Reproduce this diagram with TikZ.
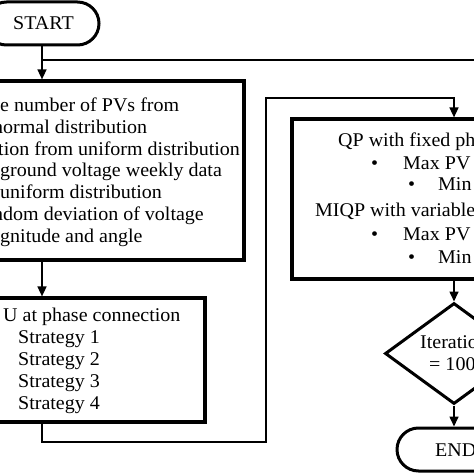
\documentclass[tikz,border=0pt]{standalone}
\usepackage{fontspec}
\setmainfont{Liberation Serif}[FakeStretch=1.03]
\usetikzlibrary{arrows.meta,shapes.misc,shapes.geometric}
\tikzset{
  txt/.style={inner sep=0pt, anchor=base west, font=\fontsize{19.5}{21}\selectfont},
  box/.style={draw, line width=3.2bp, inner sep=0pt},
  term/.style={draw, line width=3bp, rounded rectangle, minimum width=114bp, minimum height=43bp, inner sep=0pt},
  dia/.style={draw, line width=3bp, diamond, minimum width=138bp, minimum height=101bp, inner sep=0pt},
  conn/.style={line width=1.6bp},
  arr/.style={conn, -{Triangle[length=10bp,width=9bp]}}
}
\begin{document}
\begin{tikzpicture}[x=1bp,y=-1bp]
\useasboundingbox (0,0) rectangle (474,474);
\clip (0,0) rectangle (474,474);
% shapes
\node[term] (start) at (42,23.5) {};
\node[box, minimum width=264bp, minimum height=179bp] (box1) at (112,170.5) {};
\node[box, minimum width=225bp, minimum height=124bp] (box2) at (92.5,360) {};
\node[box, minimum width=228bp, minimum height=160bp] (box3) at (406,199) {};
\node[dia] (dec) at (454,353.5) {};
\node[term] (end) at (454,449.5) {};
% texts
\node[txt] (tstart) at (13,30) {START};
\node[txt] (a1) at (0,112) {e number of PVs from};
\node[txt] (a2) at (-7,133.7) {normal distribution};
\node[txt] (a3) at (-2,155.4) {tion from uniform distribution};
\node[txt] (a4) at (0,177) {ground voltage weekly data};
\node[txt] (a5) at (0,198.8) {uniform distribution};
\node[txt] (a6) at (-7,220.5) {ndom deviation of voltage};
\node[txt] (a7) at (0,242) {gnitude and angle};
\node[txt] (b1) at (3,321) {U at phase connection};
\node[txt] (b2) at (18,343) {Strategy 1};
\node[txt] (b3) at (18,365) {Strategy 2};
\node[txt] (b4) at (18,387) {Strategy 3};
\node[txt] (b5) at (18,409) {Strategy 4};
\node[txt] (c1) at (338,147) {QP with fixed ph};
\node[txt] (c2d) at (371,170) {•};
\node[txt] (c2) at (403,170) {Max PV \textbf{i}};
\node[txt] (c3d) at (408,191) {•};
\node[txt] (c3) at (438,191) {Min};
\node[txt] (c4) at (315,217) {MIQP with variable};
\node[txt] (c5d) at (371,240) {•};
\node[txt] (c5) at (403,240) {Max PV \textbf{i}};
\node[txt] (c6d) at (408,263) {•};
\node[txt] (c6) at (438,263) {Min};
\node[txt] (d1) at (420,348) {Iteratio};
\node[txt] (d2) at (429,370) {= 1000};
\node[txt] (tend) at (435,456) {END};
% connectors
\coordinate (j1) at (42,60);
\coordinate (far) at (480,60);
\draw[arr] (start.south) -- (start.south |- box1.north);
\draw[conn] (j1) -- (far);
\draw[arr] (start.south |- box1.south) -- (start.south |- box2.north);
\coordinate (l1) at (42,442);
\coordinate (l2) at (266,442);
\coordinate (l3) at (266,98);
\coordinate (l4) at (454,98);
\draw[arr] (start.south |- box2.south) -- (l1) -- (l2) -- (l3) -- (l4) -- (dec.north |- box3.north);
\draw[arr] (dec.north |- box3.south) -- (dec.north);
\draw[arr] (dec.south) -- (end.north);
\end{tikzpicture}
\end{document}
